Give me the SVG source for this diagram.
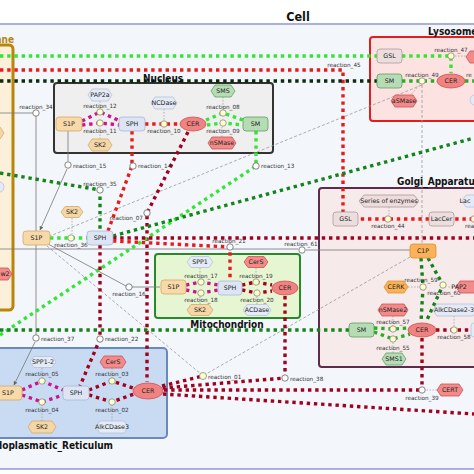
<svg xmlns="http://www.w3.org/2000/svg" width="474" height="474" viewBox="0 0 474 474">
<style>
text{font-family:"DejaVu Sans","Liberation Sans",sans-serif;}
.t{font-size:6.3px;fill:#222;text-anchor:middle;}
.lb{font-size:5.7px;fill:#333;}
.lm{font-size:5.7px;fill:#333;text-anchor:middle;}
.ttl{font-family:"DejaVu Sans Condensed","DejaVu Sans",sans-serif;font-stretch:condensed;font-size:10px;font-weight:bold;fill:#111;}
.ln{fill:none;stroke-width:3.4;stroke-dasharray:3.4 3.8;}
.g1{stroke:#33e633;}
.g2{stroke:#22b022;}
.g3{stroke:#14841a;}
.gk{stroke:#0c2a0c;}
.r1{stroke:#ea1a1a;}
.r2{stroke:#a2001c;}
.mg{stroke:#cc1490;}
.th{fill:none;stroke:#777;stroke-width:0.8;}
.ds{fill:none;stroke:#999;stroke-width:0.8;stroke-dasharray:3 2;}
.md{fill:none;stroke:#999;stroke-width:0.7;stroke-dasharray:1.5 1.5;}
.rx{fill:#fff;stroke:#666;stroke-width:0.8;}
.ry{fill:#ffffc8;stroke:#888;stroke-width:0.8;}
.s1p{fill:#f7d9aa;stroke:#d6a868;stroke-width:0.8;}
.sph{fill:#dde5f5;stroke:#a8b8d8;stroke-width:0.8;}
.cer{fill:#f08282;stroke:#d05050;stroke-width:0.8;}
.sm{fill:#b6dcb6;stroke:#5f9f5f;stroke-width:0.8;}
.gsl{fill:#ecdede;stroke:#b09a9a;stroke-width:0.8;}
.c1p{fill:#f9b25a;stroke:#e08f30;stroke-width:0.8;}
.eb{fill:#e4eaf6;stroke:#b6c2da;stroke-width:0.8;}
.eo{fill:#f5d6a6;stroke:#d6a868;stroke-width:0.8;}
.eoo{fill:#f9b25a;stroke:#e08f30;stroke-width:0.8;}
.er{fill:#f28a8a;stroke:#d05050;stroke-width:0.8;}
.eg{fill:#b6dcb6;stroke:#5f9f5f;stroke-width:0.8;}
.ep{fill:#ecdcdc;stroke:#b09a9a;stroke-width:0.8;}
</style>
<defs>
<marker id="ar" viewBox="0 0 6 6" refX="5.5" refY="3" markerWidth="5" markerHeight="5" orient="auto"><path d="M0,0 L6,3 L0,6 z" fill="#666"/></marker>
</defs>
<rect width="474" height="474" fill="#fff"/>
<g id="compartments">
<rect id="cell" x="-5" y="24" width="485" height="445" fill="#f3f6fb" stroke="#aab0dc" stroke-width="2"/>
<rect id="plasma_membrane" x="-20" y="45" width="33" height="265" rx="4" fill="#fdf0da" stroke="#b8860b" stroke-width="3"/>
<rect id="nucleus_box" x="54" y="83" width="219" height="70" rx="3" fill="#efefef" stroke="#333" stroke-width="2"/>
<rect id="lysosome_box" x="370" y="37" width="120" height="84" rx="3" fill="#fde2e2" stroke="#e01e1e" stroke-width="2"/>
<rect id="golgi_box" x="319" y="188" width="170" height="179" rx="3" fill="#f7eaea" stroke="#5c2c4c" stroke-width="2"/>
<rect id="mito_box" x="155" y="254" width="145" height="64" rx="3" fill="#e7f6d2" stroke="#2a8a2a" stroke-width="2"/>
<rect id="er_box" x="-10" y="348" width="177" height="90" rx="4" fill="#c9dbf3" stroke="#6a88b8" stroke-width="2"/>
</g>
<g id="connectors">
<path class="ds" d="M422,85 L50,236"/>
<path class="ds" d="M422,85 V244"/>
<path class="ds" d="M47,246 L201,374"/>
<path class="ds" d="M410,257 L206,374"/>
<path class="th" d="M0,113 H33 M36,116 V231"/>
<path class="th" d="M36,245 V335" />
<path class="th" d="M35,342 L14,385" marker-end="url(#ar)"/>
<path class="th" d="M68,131 V161"/>
<path class="th" d="M67,169 L40,230" marker-end="url(#ar)"/>
<path class="th" d="M48,244 L126,286 M132,287 H160" />
<path class="th" d="M0,249 H298 M306,250 H410"/>
<path class="ln g1" d="M0,56 H377"/>
<path class="ln g1" d="M402,56 H451 V73"/>
<path class="ln r1" d="M0,70 H343 V212"/>
<path class="ln gk" d="M0,81 H377"/>
<path class="ln g2" d="M402,81 H437 M465,81 H474"/>
<path class="ln mg" d="M82,121 L100,112 L120,121 M82,125 L100,123 L120,125"/>
<path class="ln r1" d="M145,124 H180"/>
<path class="ln g1" d="M206,120 L223,113 L243,120 M207,125 L223,123 L243,125"/>
<path class="ln r1" d="M132,131 V166 L108,231"/>
<path class="ln r2" d="M188,132 L147,213 V382"/>
<path class="ln g1" d="M256,131 V166 L0,335"/>
<path class="ln g3" d="M0,173 L100,190 V231"/>
<path class="ln g3" d="M113,236 L474,138"/>
<path class="ln g1" d="M50,238 H87"/>
<path class="ln r2" d="M113,238 H474"/>
<path class="ln r1" d="M113,241 L230,247 V281"/>
<path class="ln r2" d="M100,245 V339 L80,386"/>
<path class="ln mg" d="M186,285 L201,282 L218,285 M186,290 L201,293 L218,290"/>
<path class="ln r2" d="M242,285 L256,282 L272,285 M242,290 L257,293 L272,291"/>
<path class="ln r2" d="M285,296 V378 L163,388"/>
<path class="ln g3" d="M0,330 H349"/>
<path class="ln r1" d="M473,219 H454 M429,219 H358"/>
<path class="ln g3" d="M421,258 L423,287 L421,322 M428,258 L443,285 L426,322"/>
<path class="ln g2" d="M374,328 L393,329 L408,328 M374,332 L393,339 L410,334"/>
<path class="ln r2" d="M436,330 H474"/>
<path class="ln r2" d="M422,338 V390 M164,390 H422"/>
<path class="ln r2" d="M163,394 L474,414"/>
<path class="ln r2" d="M162,386 L203,376"/>
<path class="ln mg" d="M22,390 L42,381 L63,390 M22,395 L42,402 L63,395"/>
<path class="ln r2" d="M89,390 L112,381 L133,388 M89,395 L112,402 L134,394"/>
<path class="md" d="M100,101 V108 M100,139 V127 M164,109 V120 M223,97 V110 M222,137 V127 M72,218 V234 M410,96 L420,84 M455,56 H468 M200,268 V279 M200,304 V296 M256,268 V279 M257,304 V296 M389,207 V215 M408,287 H419 M456,287 H447 M393,316 V326 M393,353 V342 M454,316 V326 M437,390 H426 M42,368 V378 M42,421 V405 M112,368 V378 M112,421 V405"/>
</g>
<g id="reactions">
<circle class="ry" cx="100" cy="112" r="3.2"/><text class="lm" x="100" y="108">reaction_12</text>
<circle class="ry" cx="100" cy="123" r="3.2"/><text class="lm" x="100" y="133">reaction_11</text>
<circle class="ry" cx="164" cy="124" r="3.2"/><text class="lm" x="164" y="133">reaction_10</text>
<circle class="ry" cx="223" cy="113" r="3.2"/><text class="lm" x="223" y="109">reaction_08</text>
<circle class="ry" cx="223" cy="123" r="3.2"/><text class="lm" x="223" y="133">reaction_09</text>
<circle class="rx" cx="36" cy="113" r="3.2"/><text class="lm" x="36" y="109">reaction_34</text>
<circle class="rx" cx="68" cy="165" r="3.2"/><text class="lb" x="73" y="168">reaction_15</text>
<circle class="rx" cx="100" cy="190" r="3.2"/><text class="lm" x="100" y="186">reaction_35</text>
<circle class="ry" cx="71" cy="238" r="3.2"/><text class="lm" x="71" y="247">reaction_36</text>
<circle class="rx" cx="147" cy="213" r="3.2"/><text class="lb" x="143" y="220" text-anchor="end">reaction_07</text>
<circle class="rx" cx="133" cy="166" r="3.2"/><text class="lb" x="138" y="168">reaction_14</text>
<circle class="rx" cx="256" cy="166" r="3.2"/><text class="lb" x="261" y="168">reaction_13</text>
<circle class="rx" cx="129" cy="287" r="3.2"/><text class="lm" x="129" y="296">reaction_16</text>
<circle class="rx" cx="230" cy="247" r="3.2"/><text class="lm" x="229" y="243">reaction_21</text>
<circle class="rx" cx="302" cy="250" r="3.2"/><text class="lm" x="301" y="246">reaction_61</text>
<text class="lm" x="344" y="67">reaction_45</text>
<circle class="ry" cx="451" cy="56" r="3.2"/><text class="lm" x="451" y="52">reaction_47</text>
<circle class="ry" cx="422" cy="81" r="3.2"/><text class="lm" x="422" y="77">reaction_49</text>
<text class="lb" x="466" y="77">re</text>
<circle class="ry" cx="201" cy="282" r="3.2"/><text class="lm" x="201" y="278">reaction_17</text>
<circle class="ry" cx="201" cy="293" r="3.2"/><text class="lm" x="201" y="302">reaction_18</text>
<circle class="ry" cx="256" cy="282" r="3.2"/><text class="lm" x="256" y="278">reaction_19</text>
<circle class="ry" cx="257" cy="293" r="3.2"/><text class="lm" x="257" y="302">reaction_20</text>
<circle class="ry" cx="388" cy="219" r="3.2"/><text class="lm" x="388" y="228">reaction_44</text>
<circle class="ry" cx="474" cy="219" r="3.2"/><text class="lb" x="465" y="228">reactio</text>
<circle class="ry" cx="423" cy="287" r="3.2"/><text class="lm" x="421" y="282">reaction_59</text>
<circle class="ry" cx="443" cy="285" r="3.2"/><text class="lm" x="444" y="295">reaction_60</text>
<circle class="ry" cx="393" cy="329" r="3.2"/><text class="lm" x="393" y="324">reaction_57</text>
<circle class="ry" cx="393" cy="339" r="3.2"/><text class="lm" x="393" y="350">reaction_55</text>
<circle class="ry" cx="454" cy="330" r="3.2"/><text class="lm" x="454" y="339">reaction_58</text>
<circle class="rx" cx="422" cy="390" r="3.2"/><text class="lm" x="422" y="400">reaction_39</text>
<circle class="rx" cx="36" cy="338" r="3.2"/><text class="lb" x="41" y="341">reaction_37</text>
<circle class="rx" cx="100" cy="339" r="3.2"/><text class="lb" x="105" y="341">reaction_22</text>
<circle class="ry" cx="42" cy="381" r="3.2"/><text class="lm" x="42" y="376">reaction_05</text>
<circle class="ry" cx="42" cy="402" r="3.2"/><text class="lm" x="42" y="412">reaction_04</text>
<circle class="ry" cx="112" cy="381" r="3.2"/><text class="lm" x="112" y="376">reaction_03</text>
<circle class="ry" cx="112" cy="402" r="3.2"/><text class="lm" x="112" y="412">reaction_02</text>
<circle class="ry" cx="203" cy="376" r="3.5"/><text class="lb" x="208" y="379">reaction_01</text>
<circle class="rx" cx="285" cy="378" r="3.2"/><text class="lb" x="290" y="381">reaction_38</text>
</g>
<g id="pm_nodes">
<polygon class="eo" points="-8,127 0,127 4,133 0,139 -8,139"/>
<ellipse class="eb" cx="0" cy="187" rx="4" ry="5"/>
<polygon class="er" points="-20,268 8,268 12,274 8,280 -20,280"/><text class="t" x="5" y="276.3">w2</text>
</g>
<g id="nucleus">
<polygon class="eb" points="88,95 92,89 108,89 112,95 108,101 92,101"/><text class="t" x="100" y="97.3">PAP2a</text>
<rect class="s1p" x="56" y="117" width="26" height="14" rx="3"/><text class="t" x="69" y="126.3">S1P</text>
<polygon class="eo" points="88,145 92,139 108,139 112,145 108,151 92,151"/><text class="t" x="100" y="147.3">SK2</text>
<rect class="sph" x="119" y="117" width="26" height="14" rx="3"/><text class="t" x="132" y="126.3">SPH</text>
<polygon class="eb" points="151,103 155,97 173,97 177,103 173,109 155,109"/><text class="t" x="164" y="105.3">NCDase</text>
<ellipse class="cer" cx="193" cy="124" rx="13" ry="7"/><text class="t" x="193" y="126.3">CER</text>
<polygon class="eg" points="211,91 215,85 231,85 235,91 231,97 215,97"/><text class="t" x="223" y="93.3">SMS</text>
<polygon class="er" points="208,143 212,137 232,137 236,143 232,149 212,149"/><text class="t" x="222" y="145.3">nSMase</text>
<rect class="sm" x="243" y="117" width="25" height="14" rx="3"/><text class="t" x="255.5" y="126.3">SM</text>
</g>
<g id="cytosol">
<rect class="s1p" x="23" y="231" width="27" height="14" rx="3"/><text class="t" x="36.5" y="240.3">S1P</text>
<polygon class="eo" points="61,212 65,206.5 79,206.5 83,212 79,217.5 65,217.5"/><text class="t" x="72" y="214.3">SK2</text>
<rect class="sph" x="87" y="231" width="26" height="14" rx="3"/><text class="t" x="100" y="240.3">SPH</text>
</g>
<g id="lysosome">
<rect class="gsl" x="377" y="49" width="25" height="14" rx="3"/><text class="t" x="389.5" y="58.3">GSL</text>
<rect class="sm" x="377" y="74" width="25" height="14" rx="3"/><text class="t" x="389.5" y="83.3">SM</text>
<polygon class="er" points="391,101 395,95 413,95 417,101 413,107 395,107"/><text class="t" x="404" y="103.3">aSMase</text>
<ellipse class="cer" cx="451" cy="81" rx="14" ry="7"/><text class="t" x="451" y="83.3">CER</text>
<polygon class="er" points="466,57 470,51 480,51 480,63 470,63"/>
<ellipse class="eb" cx="475" cy="100" rx="5" ry="5"/>
</g>
<g id="mitochondrion">
<polygon class="eb" points="187,262 191,256.5 209,256.5 213,262 209,267.5 191,267.5"/><text class="t" x="200" y="264.3">SPP1</text>
<rect class="s1p" x="161" y="280" width="25" height="14" rx="3"/><text class="t" x="173.5" y="289.3">S1P</text>
<polygon class="eo" points="187,310 191,304.5 209,304.5 213,310 209,315.5 191,315.5"/><text class="t" x="200" y="312.3">SK2</text>
<rect class="sph" x="218" y="281" width="24" height="14" rx="3"/><text class="t" x="230" y="290.3">SPH</text>
<polygon class="er" points="244,262 248,256.5 264,256.5 268,262 264,267.5 248,267.5"/><text class="t" x="256" y="264.3">CerS</text>
<polygon class="eb" points="243,310 247,304.5 267,304.5 271,310 267,315.5 247,315.5"/><text class="t" x="257" y="312.3">ACDase</text>
<ellipse class="cer" cx="285" cy="288" rx="13" ry="7"/><text class="t" x="285" y="290.3">CER</text>
</g>
<g id="golgi">
<polygon class="ep" points="359,201 364,195 414,195 419,201 414,207 364,207"/><text class="t" x="389" y="203.3">Series of enzymes</text>
<rect class="gsl" x="333" y="212" width="25" height="14" rx="3"/><text class="t" x="345.5" y="221.3">GSL</text>
<rect class="gsl" x="429" y="212" width="25" height="14" rx="3"/><text class="t" x="441.5" y="221.3">LacCer</text>
<polygon class="eb" points="462,201 466,195 480,195 480,207 466,207"/><text class="t" x="465" y="203.3" text-anchor="start">Lac</text>
<rect class="c1p" x="410" y="244" width="26" height="14" rx="3"/><text class="t" x="423" y="253.3">C1P</text>
<polygon class="eoo" points="384,287 388,281 404,281 408,287 404,293 388,293"/><text class="t" x="396" y="289.3">CERK</text>
<polygon class="er" points="456,287 460,281 480,281 480,293 460,293"/><text class="t" x="459" y="289.3" text-anchor="start">PAP2</text>
<polygon class="er" points="378,310 382,304 404,304 408,310 404,316 382,316"/><text class="t" x="393" y="312.3">nSMase2</text>
<polygon class="eb" points="433,310 437,304 473,304 477,310 473,316 437,316"/><text class="t" x="454" y="312.3">AlkCDase2-3</text>
<rect class="sm" x="349" y="323" width="25" height="14" rx="3"/><text class="t" x="361.5" y="332.3">SM</text>
<ellipse class="cer" cx="422" cy="330" rx="14" ry="7"/><text class="t" x="422" y="332.3">CER</text>
<rect class="eb" x="471" y="323" width="10" height="14" rx="3"/>
<polygon class="eg" points="382,359 386,353 402,353 406,359 402,365 386,365"/><text class="t" x="394" y="361.3">SMS1</text>
<polygon class="er" points="437,390 441,384 459,384 463,390 459,396 441,396"/><text class="t" x="450" y="392.3">CERT</text>
</g>
<g id="er">
<polygon class="eb" points="30,362 34,356.5 52,356.5 56,362 52,367.5 34,367.5"/><text class="t" x="43" y="364.3">SPP1-2</text>
<rect class="s1p" x="-6" y="386" width="28" height="14" rx="3"/><text class="t" x="8" y="395.3">S1P</text>
<polygon class="eo" points="28,427 32,421 52,421 56,427 52,433 32,433"/><text class="t" x="42" y="429.3">SK2</text>
<rect class="sph" x="63" y="386" width="26" height="14" rx="3"/><text class="t" x="76" y="395.3">SPH</text>
<polygon class="er" points="100,362 104,356 122,356 126,362 122,368 104,368"/><text class="t" x="113" y="364.3">CerS</text>
<polygon class="eb" points="96,427 100,421 124,421 128,427 124,433 100,433"/><text class="t" x="112" y="429.3">AlkCDase3</text>
<ellipse class="cer" cx="148" cy="391" rx="15" ry="8"/><text class="t" x="148" y="393.3">CER</text>
</g>
<g id="titles">
<text class="ttl" x="298" y="21" text-anchor="middle" style="font-size:12.5px">Cell</text>
<text class="ttl" x="14" y="43" text-anchor="end" style="fill:#b8860b">Plasma_Membrane</text>
<text class="ttl" x="143" y="82">Nucleus</text>
<text class="ttl" x="428" y="35">Lysosome</text>
<text class="ttl" x="397" y="185">Golgi_Apparatus</text>
<text class="ttl" x="227" y="328" text-anchor="middle">Mitochondrion</text>
<text class="ttl" x="113" y="449" text-anchor="end">Endoplasmatic_Reticulum</text>
</g>
</svg>
